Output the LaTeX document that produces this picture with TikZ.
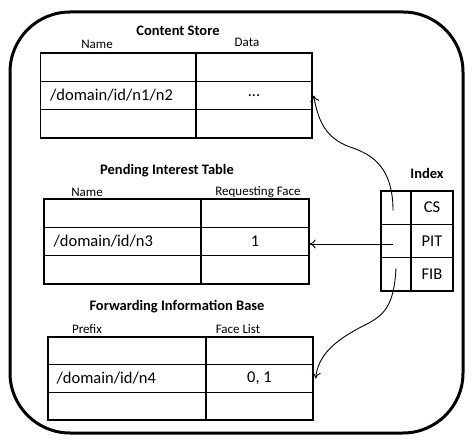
\documentclass[tikz,border=0pt]{standalone}
\usepackage{fontspec}
\setmainfont{Carlito}
\usetikzlibrary{arrows.meta}
\begin{document}
\begin{tikzpicture}[x=1pt,y=-1pt,
  cell/.style={draw, line width=1.3pt, inner sep=0pt},
  celltxt/.style={font=\fontsize{16.5}{18}\selectfont, inner sep=0pt},
  ttl/.style={font=\bfseries\fontsize{14.5}{16}\selectfont, inner sep=0pt},
  hdr/.style={font=\fontsize{13}{15}\selectfont, inner sep=0pt},
  conn/.style={line width=0.9pt, -{To[length=6pt,width=9pt]}}]
\useasboundingbox (0,0) rectangle (474,444);
\draw[line width=3pt, rounded corners=60pt] (10,12) rectangle (463,433);

% Content Store
\node[ttl] (csT) at (178,31) {Content Store};
\node[hdr] (csH1) at (97,44) {Name};
\node[hdr] (csH2) at (247,42) {Data};
\node[cell, minimum width=155.5pt, minimum height=28.33pt] (cs11) at (118.25,67.2) {};
\node[cell, minimum width=116pt, minimum height=28.33pt] (cs12) at (254,67.2) {};
\node[cell, minimum width=155.5pt, minimum height=28.33pt] (cs21) at (118.25,95.5) {};
\node[cell, minimum width=116pt, minimum height=28.33pt] (cs22) at (254,95.5) {};
\node[cell, minimum width=155.5pt, minimum height=28.33pt] (cs31) at (118.25,123.8) {};
\node[cell, minimum width=116pt, minimum height=28.33pt] (cs32) at (254,123.8) {};
\node[celltxt, anchor=west] (csN) at ([xshift=10pt]cs21.west) {/domain/id/n1/n2};
\node[celltxt] (csD) at (cs22.center) {...};

% PIT
\node[ttl] (pitT) at (167,171) {Pending Interest Table};
\node[hdr] (pitH1) at (87,192) {Name};
\node[hdr] (pitH2) at (258,192) {Requesting Face};
\node[cell, minimum width=157pt, minimum height=28.33pt] (pit11) at (122.5,213.2) {};
\node[cell, minimum width=108pt, minimum height=28.33pt] (pit12) at (255,213.2) {};
\node[cell, minimum width=157pt, minimum height=28.33pt] (pit21) at (122.5,241.5) {};
\node[cell, minimum width=108pt, minimum height=28.33pt] (pit22) at (255,241.5) {};
\node[cell, minimum width=157pt, minimum height=28.33pt] (pit31) at (122.5,269.8) {};
\node[cell, minimum width=108pt, minimum height=28.33pt] (pit32) at (255,269.8) {};
\node[celltxt, anchor=west] (pitN) at ([xshift=10pt]pit21.west) {/domain/id/n3};
\node[celltxt] (pitF) at (pit22.center) {1};

% FIB
\node[ttl] (fibT) at (177,307) {Forwarding Information Base};
\node[hdr] (fibH1) at (87,329) {Prefix};
\node[hdr] (fibH2) at (238,329) {Face List};
\node[cell, minimum width=158pt, minimum height=27.67pt] (fib11) at (127,350.8) {};
\node[cell, minimum width=107pt, minimum height=27.67pt] (fib12) at (259.5,350.8) {};
\node[cell, minimum width=158pt, minimum height=27.67pt] (fib21) at (127,378.5) {};
\node[cell, minimum width=107pt, minimum height=27.67pt] (fib22) at (259.5,378.5) {};
\node[cell, minimum width=158pt, minimum height=27.67pt] (fib31) at (127,406.2) {};
\node[cell, minimum width=107pt, minimum height=27.67pt] (fib32) at (259.5,406.2) {};
\node[celltxt, anchor=west] (fibN) at ([xshift=9pt]fib21.west) {/domain/id/n4};
\node[celltxt] (fibF) at (fib22.center) {0, 1};

% Index
\node[ttl] (idxT) at (427,173) {Index};
\node[cell, minimum width=30pt, minimum height=33.33pt] (icsA) at (396,207.7) {};
\node[cell, minimum width=42pt, minimum height=33.33pt, celltxt] (icsB) at (432,207.7) {CS};
\node[cell, minimum width=30pt, minimum height=33.33pt] (ipitA) at (396,241) {};
\node[cell, minimum width=42pt, minimum height=33.33pt, celltxt] (ipitB) at (432,241) {PIT};
\node[cell, minimum width=30pt, minimum height=33.33pt] (ifibA) at (396,274.3) {};
\node[cell, minimum width=42pt, minimum height=33.33pt, celltxt] (ifibB) at (432,274.3) {FIB};

% connectors
\draw[conn] ([xshift=-3pt,yshift=-3pt]icsA.center) .. controls (393,170) and (375,155) .. (350,147)
   .. controls (325,138) and (318,120) .. ([xshift=1pt]cs22.east);
\draw[conn] ([xshift=-3pt,yshift=-3pt]ipitA.center) -- ([yshift=-3pt]ipitA.center -| pit22.east);
\draw[conn] ([yshift=6pt]ifibA.center) .. controls (394,305) and (385,315) .. (365,325)
   .. controls (335,340) and (318,355) .. ([xshift=2pt]fib22.east);
\end{tikzpicture}
\end{document}
